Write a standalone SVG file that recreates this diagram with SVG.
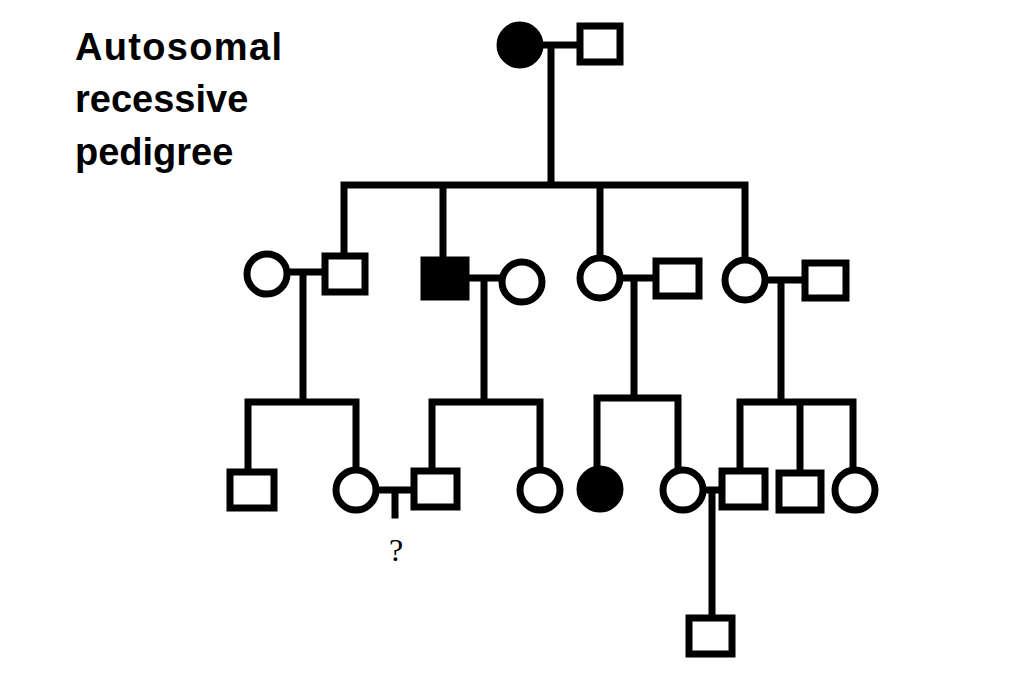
<svg xmlns="http://www.w3.org/2000/svg" width="1024" height="694" viewBox="0 0 1024 694">
<style>
.s{fill:#fff;stroke:#000;stroke-width:7}
.f{fill:#000;stroke:#000;stroke-width:7}
.l{fill:none;stroke:#000;stroke-width:7;stroke-linecap:square}
.t{font-family:"Liberation Sans",Arial,sans-serif;font-weight:bold;font-size:38px;fill:#000}
</style>
<rect width="1024" height="694" fill="#fff"/>
<g id="title"><text class="t" x="75" y="60" textLength="207">Autosomal</text><text class="t" x="75" y="112">recessive</text><text class="t" x="75" y="165">pedigree</text></g>
<g id="connectors">
<path class="l" d="M540 45H580M551 45V185M344 185H745M344 185V258M443 185V260M600 185V258M745 185V260"/>
<path class="l" d="M287 272H325M303 272V402M248 402H356M248 402V472M356 402V470"/>
<path class="l" d="M467 278H502M484 278V402M432 402H540M432 402V470M540 402V470"/>
<path class="l" d="M620 278H655M634 278V398M597 398H678M597 398V469M678 398V470"/>
<path class="l" d="M765 280H805M781 280V402M740 402H853M740 402V472M800 402V472M853 402V470"/>
<path class="l" d="M375 490H413M395 490V515"/>
<path class="l" d="M703 490H722M712 490V618"/>
</g>
<g id="n1"><circle class="f" cx="520" cy="45" r="20"/></g>
<g id="n2"><rect class="s" x="580" y="26" width="40" height="36"/></g>
<g id="n3"><circle class="s" cx="267" cy="274" r="20"/></g>
<g id="n4"><rect class="s" x="325" y="256" width="40" height="36"/></g>
<g id="n5"><rect class="f" x="424" y="260" width="42" height="37"/></g>
<g id="n6"><circle class="s" cx="522" cy="282" r="20"/></g>
<g id="n7"><circle class="s" cx="600" cy="278" r="20"/></g>
<g id="n8"><rect class="s" x="656" y="261" width="43" height="35"/></g>
<g id="n9"><circle class="s" cx="745" cy="280" r="20"/></g>
<g id="n10"><rect class="s" x="805" y="263" width="41" height="35"/></g>
<g id="n11"><rect class="s" x="230" y="472" width="44" height="36"/></g>
<g id="n12"><circle class="s" cx="356" cy="490" r="20"/></g>
<g id="n13"><rect class="s" x="414" y="471" width="43" height="36"/></g>
<g id="n14"><circle class="s" cx="540" cy="490" r="20"/></g>
<g id="n15"><circle class="f" cx="600" cy="489" r="20"/></g>
<g id="n16"><circle class="s" cx="683" cy="490" r="20"/></g>
<g id="n17"><rect class="s" x="722" y="471" width="43" height="36"/></g>
<g id="n18"><rect class="s" x="779" y="473" width="42" height="37"/></g>
<g id="n19"><circle class="s" cx="855" cy="490" r="20"/></g>
<g id="n20"><rect class="s" x="689" y="618" width="43" height="36"/></g>
<text x="396" y="561" text-anchor="middle" font-family="Liberation Serif,serif" font-size="32">?</text>
</svg>
